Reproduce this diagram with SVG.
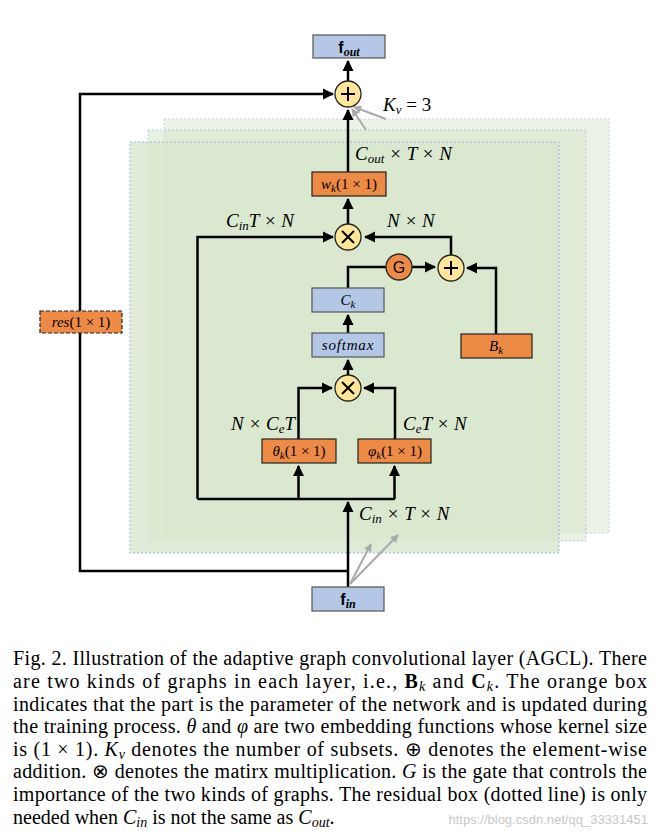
<svg xmlns="http://www.w3.org/2000/svg" width="660" height="838" viewBox="0 0 660 838">
<style>
.panel{fill:#d9e8cf;stroke:#8faadc;stroke-width:1;stroke-dasharray:2,2}
.blue{fill:#b4c7e7;stroke:#555;stroke-width:1.2}
.org{fill:#ed8a45;stroke:#222;stroke-width:1.2}
.circ{fill:#ffe699;stroke:#222;stroke-width:1.3}
.ln{fill:none;stroke:#000;stroke-width:2.5}
.gr{fill:none;stroke:#aaa;stroke-width:2}
.m{font-family:"Liberation Serif",serif;font-style:italic;font-size:19px;fill:#000}
.bx{font-family:"Liberation Serif",serif;font-style:italic;font-size:15px;fill:#000;text-anchor:middle}
.cap{font-family:"Liberation Serif",serif;font-size:20px;fill:#000}
</style>
<defs>
<marker id="a" viewBox="0 0 10 10" refX="9" refY="5" markerWidth="4.5" markerHeight="4.5" orient="auto-start-reverse"><path d="M0,0L10,5L0,10z" fill="#000"/></marker>
<marker id="g" viewBox="0 0 10 10" refX="9" refY="5" markerWidth="4" markerHeight="4" orient="auto"><path d="M0,0L10,5L0,10z" fill="#aaa"/></marker>
</defs>
<g id="panels">
<rect class="panel" x="164" y="119" width="445" height="414" opacity="0.5"/>
<rect class="panel" x="148" y="130" width="438" height="411" opacity="0.6"/>
<rect class="panel" x="130" y="142" width="429" height="411" opacity="0.85"/>
</g>
<g id="connectors">
<path class="ln" d="M348,587V502" marker-end="url(#a)"/>
<path class="ln" d="M348,571H80V94H333" stroke-width="2" marker-end="url(#a)"/>
<path class="ln" d="M197.5,499H395"/>
<path class="ln" d="M197.5,499V237H333" marker-end="url(#a)"/>
<path class="ln" d="M298.5,499V466" marker-end="url(#a)"/>
<path class="ln" d="M394.5,499V466" marker-end="url(#a)"/>
<path class="ln" d="M298.5,439V388H332" marker-end="url(#a)"/>
<path class="ln" d="M395,439V388H364" marker-end="url(#a)"/>
<path class="ln" d="M348,375V360" marker-end="url(#a)"/>
<path class="ln" d="M348,333V315" marker-end="url(#a)"/>
<path class="ln" d="M348,288V267H386"/>
<path class="ln" d="M412,267H435" marker-end="url(#a)"/>
<path class="ln" d="M496,334V268H467" marker-end="url(#a)"/>
<path class="ln" d="M451,255V237H365" marker-end="url(#a)"/>
<path class="ln" d="M348,224V199" marker-end="url(#a)"/>
<path class="ln" d="M348,172V110" marker-end="url(#a)"/>
<path class="ln" d="M348,81V61" marker-end="url(#a)"/>
<path class="gr" d="M386,119L354,107" marker-end="url(#g)"/>
<path class="gr" d="M366,130L352,109" marker-end="url(#g)"/>
<path class="gr" d="M350,584L371,544" marker-end="url(#g)"/>
<path class="gr" d="M350,584L398,535" marker-end="url(#g)"/>
</g>
<g id="fout"><rect class="blue" x="313" y="35" width="72" height="23"/><text x="349" y="53" font-family="Liberation Sans,sans-serif" font-weight="bold" font-size="16" text-anchor="middle">f<tspan font-style="italic" font-size="12" dy="3" font-family="Liberation Serif,serif">out</tspan></text></g>
<g id="add_top"><circle class="circ" cx="348" cy="94" r="13"/><path d="M341,94H355M348,87V101" stroke="#000" stroke-width="2"/></g>
<text class="m" x="383" y="111">K<tspan font-size="13" dy="3">v</tspan><tspan dy="-3" font-style="normal"> = 3</tspan></text>
<g id="wk"><rect class="org" x="312" y="172" width="74" height="24"/><text class="bx" x="349" y="189">w<tspan font-size="11" dy="3">k</tspan><tspan dy="-3" font-style="normal">(1 × 1)</tspan></text></g>
<text class="m" x="355" y="160">C<tspan font-size="13" dy="3">out</tspan><tspan dy="-3"> × T × N</tspan></text>
<g id="mul_top"><circle class="circ" cx="348" cy="237" r="13"/><path d="M342,231L354,243M354,231L342,243" stroke="#000" stroke-width="2"/></g>
<text class="m" x="226" y="227">C<tspan font-size="13" dy="3">in</tspan><tspan dy="-3">T × N</tspan></text>
<text class="m" x="387" y="227">N × N</text>
<g id="G"><circle cx="399" cy="267" r="13" fill="#ed8a45" stroke="#222" stroke-width="1.3"/><text x="399" y="273" font-family="Liberation Sans,sans-serif" font-size="16" text-anchor="middle">G</text></g>
<g id="add_mid"><circle class="circ" cx="451" cy="268" r="13"/><path d="M444,268H458M451,261V275" stroke="#000" stroke-width="2"/></g>
<g id="Ck"><rect class="blue" x="312" y="288" width="72" height="24"/><text class="bx" x="348" y="305">C<tspan font-size="11" dy="3">k</tspan></text></g>
<g id="softmax"><rect class="blue" x="312" y="333" width="72" height="24"/><text class="bx" x="348" y="350" letter-spacing="0.8">softmax</text></g>
<g id="Bk"><rect class="org" x="461" y="334" width="71" height="24"/><text class="bx" x="496" y="351">B<tspan font-size="11" dy="3">k</tspan></text></g>
<g id="mul_low"><circle class="circ" cx="348" cy="388" r="13"/><path d="M342,382L354,394M354,382L342,394" stroke="#000" stroke-width="2"/></g>
<text class="m" x="231" y="430">N × C<tspan font-size="13" dy="3">e</tspan><tspan dy="-3">T</tspan></text>
<text class="m" x="403" y="430">C<tspan font-size="13" dy="3">e</tspan><tspan dy="-3">T × N</tspan></text>
<g id="theta"><rect class="org" x="262" y="439" width="74" height="24"/><text class="bx" x="299" y="456">θ<tspan font-size="11" dy="3">k</tspan><tspan dy="-3" font-style="normal">(1 × 1)</tspan></text></g>
<g id="phi"><rect class="org" x="358" y="439" width="73" height="24"/><text class="bx" x="395" y="456">φ<tspan font-size="11" dy="3">k</tspan><tspan dy="-3" font-style="normal">(1 × 1)</tspan></text></g>
<text class="m" x="359" y="520">C<tspan font-size="13" dy="3">in</tspan><tspan dy="-3"> × T × N</tspan></text>
<g id="res"><rect x="40" y="311" width="82" height="22" fill="#ed8a45" stroke="#222" stroke-width="1.2" stroke-dasharray="4,2"/><text class="bx" x="81" y="327">res<tspan font-style="normal">(1 × 1)</tspan></text></g>
<g id="fin"><rect class="blue" x="312" y="587" width="72" height="24"/><text x="348" y="605" font-family="Liberation Sans,sans-serif" font-weight="bold" font-size="16" text-anchor="middle">f<tspan font-style="italic" font-size="12" dy="3" font-family="Liberation Serif,serif">in</tspan></text></g>
<g id="caption">
<text class="cap" x="13" y="665" textLength="634" lengthAdjust="spacing">Fig. 2.  Illustration of the adaptive graph convolutional layer (AGCL). There</text>
<text class="cap" x="13" y="688" textLength="634" lengthAdjust="spacing">are two kinds of graphs in each layer, i.e., <tspan font-weight="bold">B</tspan><tspan font-style="italic" font-size="14" dy="3">k</tspan><tspan dy="-3"> and </tspan><tspan font-weight="bold">C</tspan><tspan font-style="italic" font-size="14" dy="3">k</tspan><tspan dy="-3">. The orange box</tspan></text>
<text class="cap" x="13" y="711" textLength="634" lengthAdjust="spacing">indicates that the part is the parameter of the network and is updated during</text>
<text class="cap" x="13" y="733" textLength="634" lengthAdjust="spacing">the training process. <tspan font-style="italic">θ</tspan> and <tspan font-style="italic">φ</tspan> are two embedding functions whose kernel size</text>
<text class="cap" x="13" y="756" textLength="634" lengthAdjust="spacing">is (1 × 1). <tspan font-style="italic">K</tspan><tspan font-style="italic" font-size="14" dy="3">v</tspan><tspan dy="-3"> denotes the number of subsets. ⊕ denotes the element-wise</tspan></text>
<text class="cap" x="13" y="778" textLength="634" lengthAdjust="spacing">addition. ⊗ denotes the matirx multiplication. <tspan font-style="italic">G</tspan> is the gate that controls the</text>
<text class="cap" x="13" y="801" textLength="634" lengthAdjust="spacing">importance of the two kinds of graphs. The residual box (dotted line) is only</text>
<text class="cap" x="13" y="824">needed when <tspan font-style="italic">C</tspan><tspan font-style="italic" font-size="14" dy="3">in</tspan><tspan dy="-3"> is not the same as </tspan><tspan font-style="italic">C</tspan><tspan font-style="italic" font-size="14" dy="3">out</tspan><tspan dy="-3">.</tspan></text>
</g>
<text x="648" y="824" font-family="Liberation Sans,sans-serif" font-size="13" fill="#c8c8c8" text-anchor="end">https://blog.csdn.net/qq_33331451</text>
</svg>
